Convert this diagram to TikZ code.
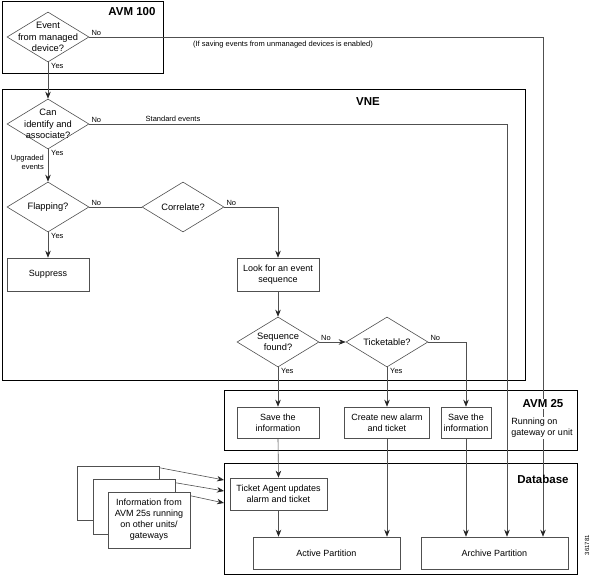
\documentclass[tikz,border=0pt]{standalone}
\usepackage{fontspec}
\setmainfont{Liberation Sans}
\usetikzlibrary{arrows.meta,shapes.geometric,positioning}
\definecolor{linegray}{HTML}{505050}
\tikzset{
  zone/.style={draw=black,line width=1pt},
  decision/.style={diamond,draw=linegray,line width=0.6pt,inner sep=0pt,
    minimum width=82pt,minimum height=50pt},
  dtext/.style={align=center,inner sep=0pt,font=\fontsize{9.3}{11.5}\selectfont},
  stepbox/.style={draw=linegray,line width=0.6pt,fill=white,align=center,
    inner sep=0pt,font=\fontsize{9}{11}\selectfont},
  flow/.style={draw=linegray,line width=0.6pt,-{Stealth[length=7pt,width=5.5pt,color=black!85]}},
  link/.style={draw=linegray,line width=0.6pt},
  lbl/.style={inner sep=1pt,font=\fontsize{7.5}{9}\selectfont},
  zonetitle/.style={inner sep=1pt,font=\bfseries\fontsize{11.5}{13}\selectfont}
}

\begin{document}
\begin{tikzpicture}[x=1pt,y=-1pt]
  \useasboundingbox (0,0) rectangle (595,577);
  % --- zones ---
  \node[zone,minimum width=161pt,minimum height=72pt] (avm100) at (82.5,38) {};
  \node[zone,minimum width=523pt,minimum height=291pt] (vne) at (263.5,235) {};
  \node[zone,minimum width=353pt,minimum height=60pt] (avm25) at (400.5,421) {};
  \node[zone,minimum width=353pt,minimum height=110pt] (db) at (400.5,519) {};
  % --- decisions ---
  \node[decision,label={[dtext]center:{Event\\from managed\\device?}}] (managed) at (48,37) {};
  \node[decision,label={[dtext]center:{Can\\identify and\\associate?}}] (identify) at (48,124) {};
  \node[decision,label={[dtext]center:Flapping?}] (flapping) at (48,207) {};
  \node[decision,label={[dtext]center:Correlate?}] (correlate) at (183,207) {};
  \node[decision,label={[dtext]center:{Sequence\\found?}}] (seq) at (278,342) {};
  \node[decision,label={[dtext]center:Ticketable?}] (ticketable) at (387,342) {};
  % --- steps ---
  \node[stepbox,minimum width=82pt,minimum height=33pt] (suppress) at (48,274.5) {Suppress};
  \node[stepbox,minimum width=82pt,minimum height=33pt] (look) at (278,274.5) {Look for an event\\sequence};
  \node[stepbox,minimum width=82pt,minimum height=31pt] (save1) at (278,422.5) {Save the\\information};
  \node[stepbox,minimum width=85pt,minimum height=31pt] (create) at (387,422.5) {Create new alarm\\and ticket};
  \node[stepbox,minimum width=50pt,minimum height=31pt] (save2) at (466,422.5) {Save the\\information};
  \node[stepbox,minimum width=97pt,minimum height=32pt] (ticket) at (278.5,494) {Ticket Agent updates\\alarm and ticket};
  \node[stepbox,minimum width=147pt,minimum height=32pt] (active) at (326.5,553) {Active Partition};
  \node[stepbox,minimum width=147pt,minimum height=32pt] (archive) at (494.5,553) {Archive Partition};
  % other AVM 25s
  \node[stepbox,minimum width=82pt,minimum height=54pt] (info1) at (118,493) {};
  \node[stepbox,minimum width=82pt,minimum height=55pt] (info2) at (134,506.5) {};
  \node[stepbox,minimum width=82pt,minimum height=56pt] (info3) at (149,520)
    {Information from\\AVM 25s running\\on other units/\\gateways};
  % --- lanes to the archive ---
  \coordinate (stdlane) at (507,124);
  \coordinate (unmlane) at (543,37);
  \coordinate (in1) at (224,480);
  \coordinate (in2) at (224,491);
  \coordinate (in3) at (224,503);
  % --- connectors ---
  \draw[flow] (managed.south) -- (identify.north);
  \draw[flow] (identify.south) -- (flapping.north);
  \draw[flow] (flapping.south) -- (suppress.north);
  \draw[link] (flapping.east) -- (correlate.west);
  \draw[flow] (correlate.east) -| (look.north);
  \draw[flow] (look.south) -- (seq.north);
  \draw[flow] (seq.east) -- node[lbl,above,pos=0.25] {No} (ticketable.west);
  \draw[flow] (seq.south) -- (save1.north);
  \draw[flow] (ticketable.south) -- (create.north);
  \draw[flow] (ticketable.east) -| (save2.north);
  \draw[flow] (save1.south) -- (ticket.north);
  \draw[flow] (ticket.south) -- (ticket.south |- active.north);
  \draw[flow] (create.south) -- (create.south |- active.north);
  \draw[flow] (save2.south) -- (save2.south |- archive.north);
  \draw[flow] (identify.east) -| (stdlane |- archive.north);
  \draw[flow] (managed.east) -| (unmlane |- archive.north);
  \draw[flow] ([yshift=-2pt]info1.north east) -- (in1);
  \draw[flow] ([yshift=-4pt]info2.north east) -- (in2);
  \draw[flow] ([yshift=-4pt]info3.north east) -- (in3);
  % --- yes / no ---
  \node[lbl,anchor=south west] at ([xshift=1pt]managed.east) {No};
  \node[lbl,anchor=north west] at ([xshift=2pt]managed.south) {Yes};
  \node[lbl,anchor=south west] at ([xshift=1pt]identify.east) {No};
  \node[lbl,anchor=north west] at ([xshift=2pt]identify.south) {Yes};
  \node[lbl,anchor=north east,align=right] at ([xshift=-3pt,yshift=-5pt]identify.south) {Upgraded\\events};
  \node[lbl,anchor=south west] at ([xshift=1pt]flapping.east) {No};
  \node[lbl,anchor=north west] at ([xshift=2pt]flapping.south) {Yes};
  \node[lbl,anchor=south west] at ([xshift=1pt]correlate.east) {No};
  \node[lbl,anchor=north west] at ([xshift=2pt]seq.south) {Yes};
  \node[lbl,anchor=south west] at ([xshift=1pt]ticketable.east) {No};
  \node[lbl,anchor=north west] at ([xshift=2pt]ticketable.south) {Yes};
  \node[lbl] (stdlbl) at (173,119) {Standard events};
  \node[lbl] (unmlbl) at (283,45) {(If saving events from unmanaged devices is enabled)};
  % --- titles ---
  \node[zonetitle] (avm100title) at (132,12) {AVM 100};
  \node[zonetitle] (vnetitle) at (368,102) {VNE};
  \node[zonetitle,fill=white] (avm25title) at (543,404) {AVM 25};
  \node[inner sep=1pt,fill=white,align=left,font=\fontsize{9}{11}\selectfont] (avm25note) at (542,428)
    {Running on\\gateway or unit};
  \node[zonetitle] (dbtitle) at (543,479) {Database};
  \node[rotate=90,font=\fontsize{6}{7}\selectfont] (figid) at (587,545) {361781};
\end{tikzpicture}
\end{document}
